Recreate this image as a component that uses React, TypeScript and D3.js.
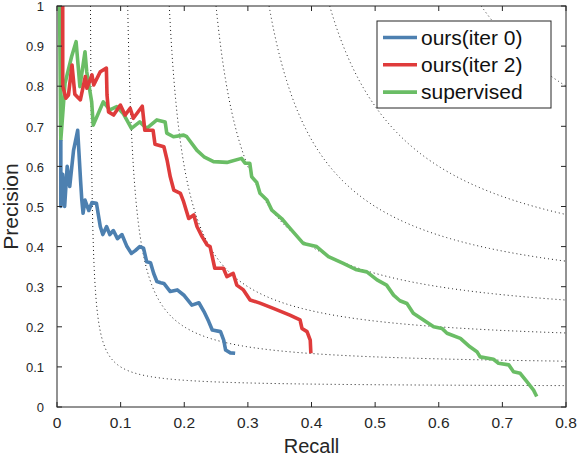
import React, { useEffect, useRef } from 'react';
import * as d3 from 'd3';

// precision / recall points, [recall, precision]
const iter0Points: [number, number][] = [
  [0.006, 0.666], [0.006, 0.5], [0.009, 0.58], [0.012, 0.5], [0.016, 0.6], [0.02, 0.55],
  [0.026, 0.64], [0.0325, 0.69], [0.037, 0.566], [0.039, 0.516], [0.041, 0.483],
  [0.044, 0.516], [0.05, 0.49], [0.055, 0.51], [0.062, 0.508], [0.068, 0.45],
  [0.072, 0.43], [0.078, 0.45], [0.083, 0.43], [0.0886, 0.44], [0.095, 0.42],
  [0.102, 0.43], [0.11, 0.4], [0.117, 0.383], [0.123, 0.39], [0.13, 0.4],
  [0.136, 0.396], [0.141, 0.362], [0.147, 0.36], [0.152, 0.333], [0.157, 0.313],
  [0.163, 0.31], [0.168, 0.308], [0.178, 0.288], [0.189, 0.292], [0.2, 0.278],
  [0.212, 0.254], [0.223, 0.26], [0.231, 0.238], [0.2385, 0.213], [0.244, 0.192],
  [0.257, 0.188], [0.262, 0.167], [0.265, 0.142], [0.2725, 0.135], [0.28, 0.134],
];

const iter2Points: [number, number][] = [
  [0.009, 1.0], [0.009, 0.8], [0.014, 0.77], [0.018, 0.778], [0.0236, 0.853],
  [0.028, 0.78], [0.034, 0.77], [0.0367, 0.766], [0.0445, 0.824], [0.047, 0.795],
  [0.055, 0.828], [0.0577, 0.803], [0.068, 0.836], [0.0776, 0.845], [0.0786, 0.778],
  [0.081, 0.736], [0.089, 0.728], [0.0996, 0.753], [0.107, 0.728], [0.115, 0.745],
  [0.12, 0.72], [0.134, 0.75], [0.138, 0.69], [0.151, 0.69], [0.154, 0.655],
  [0.168, 0.649], [0.173, 0.616], [0.178, 0.574], [0.1835, 0.541], [0.194, 0.533],
  [0.199, 0.512], [0.207, 0.47], [0.215, 0.479], [0.22, 0.45], [0.228, 0.425],
  [0.236, 0.404], [0.2406, 0.4], [0.248, 0.346], [0.2615, 0.346], [0.267, 0.325],
  [0.277, 0.333], [0.2825, 0.304], [0.293, 0.292], [0.3035, 0.267], [0.319, 0.259],
  [0.34, 0.246], [0.366, 0.229], [0.382, 0.217], [0.385, 0.196], [0.393, 0.188],
  [0.398, 0.167], [0.399, 0.134],
];

const supervisedPoints: [number, number][] = [
  [0.004, 1.0], [0.006, 0.666], [0.0126, 0.807], [0.023, 0.874], [0.03, 0.911],
  [0.036, 0.799], [0.044, 0.886], [0.0467, 0.836], [0.0545, 0.761], [0.057, 0.703],
  [0.0728, 0.761], [0.083, 0.741], [0.094, 0.749], [0.104, 0.732], [0.117, 0.695],
  [0.13, 0.711], [0.141, 0.695], [0.157, 0.716], [0.17, 0.711], [0.1725, 0.683],
  [0.183, 0.674], [0.199, 0.678], [0.204, 0.674], [0.22, 0.64], [0.231, 0.624],
  [0.246, 0.612], [0.267, 0.61], [0.29, 0.62], [0.2956, 0.608], [0.303, 0.608],
  [0.306, 0.574], [0.314, 0.56], [0.319, 0.533], [0.33, 0.516], [0.3376, 0.491],
  [0.353, 0.47], [0.366, 0.446], [0.387, 0.408], [0.408, 0.4], [0.4266, 0.375],
  [0.45, 0.358], [0.471, 0.342], [0.487, 0.337], [0.503, 0.317], [0.518, 0.304],
  [0.529, 0.279], [0.539, 0.265], [0.55, 0.258], [0.56, 0.234], [0.576, 0.217],
  [0.592, 0.2], [0.605, 0.196], [0.613, 0.184], [0.634, 0.171], [0.649, 0.15],
  [0.66, 0.138], [0.665, 0.125], [0.686, 0.119], [0.694, 0.109], [0.71, 0.105],
  [0.7175, 0.088], [0.728, 0.084], [0.7385, 0.063], [0.749, 0.042], [0.754, 0.026],
];

const seriesNames = ['ours(iter 0)', 'ours(iter 2)', 'supervised'];
const seriesColors = ['#4d80b0', '#df3b3b', '#6abd65'];
const isoF = [0.1, 0.2, 0.3, 0.4, 0.5, 0.6, 0.8];
const xTicks = [0, 0.1, 0.2, 0.3, 0.4, 0.5, 0.6, 0.7, 0.8];
const yTicks = [0, 0.1, 0.2, 0.3, 0.4, 0.5, 0.6, 0.7, 0.8, 0.9, 1];

const App = () => {
  const svgRef = useRef<SVGSVGElement>(null);

  useEffect(() => {
    const margin = { top: 6, right: 11, bottom: 51, left: 57 };
    const W = 577, H = 458;
    const width = W - margin.left - margin.right;
    const height = H - margin.top - margin.bottom;
    const font = '"Liberation Sans", Arial, sans-serif';
    const axisColor = '#262626';

    const root = d3.select(svgRef.current);
    root.selectAll('*').remove();
    const svg = root.append('g').attr('transform', `translate(${margin.left},${margin.top})`);

    const x = d3.scaleLinear().domain([0, 0.8]).range([0, width]);
    const y = d3.scaleLinear().domain([0, 1]).range([height, 0]);

    svg.append('clipPath').attr('id', 'plotclip')
      .append('rect').attr('width', width).attr('height', height);

    // iso-F curves
    const iso = svg.append('g').attr('clip-path', 'url(#plotclip)');
    isoF.forEach(f => {
      const pts: [number, number][] = [];
      const r0 = f / (2 - f);
      for (let i = 0; i <= 400; i++) {
        const r = r0 + (0.8 - r0) * Math.pow(i / 400, 1.6);
        pts.push([r, (f * r) / (2 * r - f)]);
      }
      iso.append('path')
        .attr('d', d3.line().x(d => x(d[0])).y(d => y(d[1]))(pts))
        .attr('fill', 'none')
        .attr('stroke', '#1a1a1a')
        .attr('stroke-width', 1)
        .attr('stroke-dasharray', '1,3');
    });

    const line = d3.line<[number, number]>().x(d => x(d[0])).y(d => y(d[1]));
    const series = [iter0Points, iter2Points, supervisedPoints];
    // green first so red and blue sit on top
    [2, 1, 0].forEach(i => {
      svg.append('path')
        .attr('d', line(series[i]))
        .attr('fill', 'none')
        .attr('stroke', seriesColors[i])
        .attr('stroke-width', 3.6)
        .attr('stroke-linejoin', 'round');
    });

    // box
    svg.append('rect')
      .attr('width', width).attr('height', height)
      .attr('fill', 'none').attr('stroke', axisColor).attr('stroke-width', 1);

    const tickLen = 5;
    const ticks = svg.append('g').attr('stroke', axisColor).attr('stroke-width', 1);
    xTicks.forEach(t => {
      ticks.append('line').attr('x1', x(t)).attr('x2', x(t)).attr('y1', height).attr('y2', height - tickLen);
      ticks.append('line').attr('x1', x(t)).attr('x2', x(t)).attr('y1', 0).attr('y2', tickLen);
    });
    yTicks.forEach(t => {
      ticks.append('line').attr('x1', 0).attr('x2', tickLen).attr('y1', y(t)).attr('y2', y(t));
      ticks.append('line').attr('x1', width).attr('x2', width - tickLen).attr('y1', y(t)).attr('y2', y(t));
    });

    svg.append('g').selectAll('text').data(xTicks).enter().append('text')
      .attr('x', d => x(d)).attr('y', height + 21)
      .attr('text-anchor', 'middle')
      .attr('font-family', font).attr('font-size', 15.5).attr('fill', axisColor)
      .text(d => String(d));

    svg.append('g').selectAll('text').data(yTicks).enter().append('text')
      .attr('x', -13).attr('y', d => y(d)).attr('dy', '0.4em')
      .attr('text-anchor', 'end')
      .attr('font-family', font).attr('font-size', 13).attr('fill', axisColor)
      .text(d => String(d));

    svg.append('text')
      .attr('x', width / 2).attr('y', height + 46)
      .attr('text-anchor', 'middle')
      .attr('font-family', font).attr('font-size', 20).attr('fill', axisColor)
      .text('Recall');

    svg.append('text')
      .attr('transform', `translate(${-39},${height / 2}) rotate(-90)`)
      .attr('text-anchor', 'middle')
      .attr('font-family', font).attr('font-size', 21).attr('fill', axisColor)
      .text('Precision');

    // legend
    const lg = svg.append('g').attr('transform', `translate(${377 - margin.left},${21 - margin.top})`);
    lg.append('rect').attr('width', 174).attr('height', 87)
      .attr('fill', '#fff').attr('stroke', axisColor).attr('stroke-width', 1);
    seriesNames.forEach((name, i) => {
      const cy = 16.5 + i * 27.3;
      lg.append('line').attr('x1', 6).attr('x2', 40).attr('y1', cy).attr('y2', cy)
        .attr('stroke', seriesColors[i]).attr('stroke-width', 3.6);
      lg.append('text').attr('x', 44).attr('y', cy).attr('dy', '0.35em')
        .attr('font-family', font).attr('font-size', 21).attr('fill', '#111')
        .text(name);
    });
  }, []);

  return (
    <svg ref={svgRef} width={577} height={458}
      style={{ position: 'absolute', left: 0, top: 0, background: '#fff' }} />
  );
};

export default App;
